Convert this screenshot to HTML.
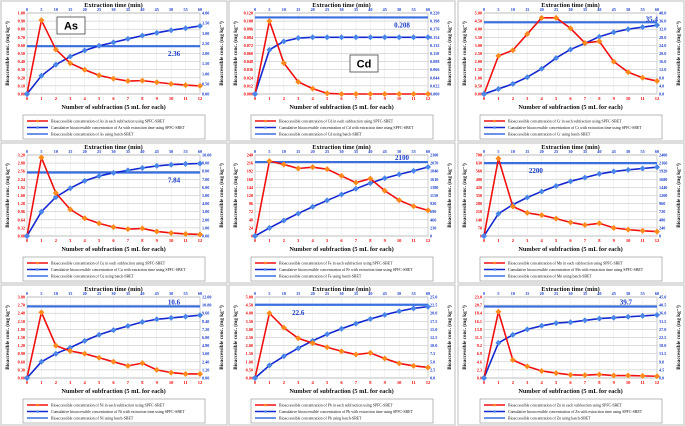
<!DOCTYPE html>
<html><head><meta charset="utf-8"><style>
html,body{margin:0;padding:0;background:#fff;}
svg{display:block;font-family:"Liberation Serif",serif;}
</style></head><body>
<svg id="fig" width="685" height="426" viewBox="0 0 685 426" xmlns="http://www.w3.org/2000/svg"></svg>
<script>
const elements = ["As","Cd","Cr","Cu","Fe","Mn","Ni","Pb","Zn"];
const leftMax = [1.0,0.12,5.0,3.2,240,700,3.0,5.0,23.0];
const leftTicks = [10,10,10,10,10,10,10,10,10];
const leftDec = [2,3,2,2,0,0,2,2,1];
const rightMax = [4.0,0.22,40,10,2300,2400,12,25,45];
const rightTicks = [8,10,10,10,10,10,10,10,10];
const rightDec = [2,3,1,2,0,0,2,1,1];
const redAs = [0,0.91,0.55,0.38,0.30,0.23,0.19,0.16,0.165,0.145,0.125,0.11,0.10];
const redCd = [0,0.108,0.046,0.018,0.008,0.001,0,0,0,0,0,0,0];
const redCr = [0,2.35,2.7,3.7,4.7,4.7,4.05,3.15,3.25,2.0,1.35,1.0,0.8];
const redCu = [0,3.1,1.7,1.05,0.7,0.5,0.35,0.27,0.3,0.18,0.12,0.08,0.06];
const redFe = [0,222,212,200,204,198,178,158,170,134,106,88,76];
const redMn = [0,670,255,200,180,150,118,95,110,70,55,45,38];
const redNi = [0,2.43,1.2,1.0,0.9,0.75,0.6,0.45,0.55,0.3,0.2,0.15,0.15];
const redPb = [0,4.0,3.1,2.45,2.15,1.9,1.65,1.45,1.55,1.2,0.9,0.75,0.65];
const redZn = [0,18.8,5.1,3.3,2.0,1.4,0.9,0.8,1.0,0.7,0.7,0.6,0.5];
const blueAs = [0,0.9,1.45,1.85,2.15,2.38,2.55,2.72,2.88,3.02,3.15,3.25,3.36];
const blueCd = [0,0.12,0.143,0.152,0.154,0.154,0.154,0.154,0.154,0.154,0.154,0.154,0.154];
const blueCr = [0,2.5,5.0,8.3,12.5,17.8,22,25,28.3,30.5,32,33,34];
const blueCu = [0,3.0,4.8,5.9,6.8,7.4,7.8,8.1,8.4,8.65,8.8,8.9,8.95];
const blueFe = [0,230,440,640,830,1010,1180,1340,1500,1640,1750,1850,1960];
const blueMn = [0,660,930,1140,1320,1480,1620,1730,1840,1910,1960,2000,2040];
const blueNi = [0,2.4,3.6,4.5,5.5,6.4,7.1,7.7,8.3,8.7,8.9,9.1,9.3];
const bluePb = [0,3.9,6.7,9.2,11.5,13.5,15.2,16.8,18.2,19.5,20.6,21.5,22.0];
const blueZn = [0,19.5,24,27,29,30.5,31,32,33,33.5,34,34.5,35];
const batchValues = [2.36,0.208,35.4,7.84,2100,2160,10.6,22.6,39.7];
const batchLabels = ["2.36","0.208","35.4","7.84","2100","2200","10.6","22.6","39.7"];
const subfractions = [0,1,2,3,4,5,6,7,8,9,10,11,12];
const timeTicks = [0,5,10,15,20,25,30,35,40,45,50,55,60];
const redSeries = [redAs,redCd,redCr,redCu,redFe,redMn,redNi,redPb,redZn];
const blueSeries = [blueAs,blueCd,blueCr,blueCu,blueFe,blueMn,blueNi,bluePb,blueZn];
const labelPos = [[0.85,10],[0.85,10],[0.97,-1],[0.85,10],[0.85,-2],[0.3,10],[0.85,-2],[0.25,10],[0.82,-2]];

const NS="http://www.w3.org/2000/svg";
const svg=document.getElementById('fig');
function mk(tag,attrs,parent){const e=document.createElementNS(NS,tag);for(const k in attrs)e.setAttribute(k,attrs[k]);(parent||svg).appendChild(e);return e;}
const colX=[0,228,457], rowY=[0,142,284];
const MS=3.0;
for(let i=0;i<9;i++){
  const px=colX[i%3], py=rowY[Math.floor(i/3)];
  const el=elements[i];
  const g=mk('g',{transform:`translate(${px},${py})`});
  
  
  const frame=mk('rect',{x:1,y:1,width:226,height:140,fill:'#fff',stroke:'#c8c8c8','stroke-width':1.2},g);
  
  
  const L=27,R=200,T=13,B=94;
  const xs=v=>L+(R-L)*v/12;
  const yl=v=>B-(B-T)*v/leftMax[i];
  const yr=v=>B-(B-T)*v/rightMax[i];
  mk('rect',{x:L,y:T,width:R-L,height:B-T,fill:'#fff',stroke:'#999','stroke-width':0.6},g);
  for(let k=0;k<=leftTicks[i];k++){
    const v=leftMax[i]*k/leftTicks[i];const y=yl(v);
    mk('line',{x1:L,x2:R,y1:y,y2:y,stroke:'#bbb','stroke-width':0.5},g);
    const t=mk('text',{x:L-2,y:y+1.5,'font-size':4.2,fill:'#e00','text-anchor':'end','font-weight':'bold'},g);
    t.textContent=v.toFixed(leftDec[i]);
    
    
  }
  for(let k=0;k<=rightTicks[i];k++){
    const v=rightMax[i]*k/rightTicks[i];const y=yr(v);
    const t=mk('text',{x:R+2,y:y+1.5,'font-size':4.2,fill:'#1a3cc8','font-weight':'bold'},g);
    t.textContent=v.toFixed(rightDec[i]);
    
    
  }
  for(let k=0;k<subfractions.length;k++){
    const x=xs(subfractions[k]);
    mk('line',{x1:x,x2:x,y1:T,y2:B,stroke:'#ddd','stroke-width':0.4},g);
    const t=mk('text',{x:x,y:B+6,'font-size':4.5,fill:'#e00','text-anchor':'middle','font-weight':'bold'},g);
    t.textContent=subfractions[k];
    
    
    const t2=mk('text',{x:x,y:T-2,'font-size':4.2,fill:'#1a3cc8','text-anchor':'middle','font-weight':'bold'},g);
    t2.textContent=timeTicks[k];
    
    
  }
  const tt=mk('text',{x:(L+R)/2,y:7,'font-size':6.3,'font-weight':'bold','text-anchor':'middle',fill:'#111'},g);
  tt.textContent='Extraction time (min)';
  
  
  const xt=mk('text',{x:(L+R)/2,y:B+15,'font-size':6.3,'font-weight':'bold','text-anchor':'middle',fill:'#111'},g);
  xt.textContent='Number of subfraction (5 mL for each)';
  
  
  const ylt=mk('text',{transform:`translate(9,${(T+B)/2}) rotate(-90)`,'font-size':5.2,'font-weight':'bold','text-anchor':'middle',fill:'#111'},g);
  ylt.textContent='Bioaccessible conc. (mg kg⁻¹)';
  
  
  const yrt=mk('text',{transform:`translate(223,${(T+B)/2}) rotate(-90)`,'font-size':5.2,'font-weight':'bold','text-anchor':'middle',fill:'#111'},g);
  yrt.textContent='Bioaccessible conc. (mg kg⁻¹)';
  
  
  const hy=yr(batchValues[i]);
  const hl=mk('line',{x1:L,x2:R,y1:hy,y2:hy,stroke:'#3a6fe0','stroke-width':2.2},g);
  
  
  const lp=labelPos[i];
  const hlab=mk('text',{x:L+(R-L)*lp[0],y:hy+lp[1],'font-size':7,'font-weight':'bold',fill:'#1a3cc8','text-anchor':'middle'},g);
  hlab.textContent=batchLabels[i];
  
  
  const bp=blueSeries[i].map((v,k)=>xs(subfractions[k])+','+yr(v)).join(' ');
  const bl=mk('polyline',{points:bp,fill:'none',stroke:'#1428d0','stroke-width':1.6},g);
  
  
  blueSeries[i].forEach((v,k)=>{const x=xs(subfractions[k]),y=yr(v);
    const m=mk('path',{d:`M${x},${y-MS}L${x+MS},${y}L${x},${y+MS}L${x-MS},${y}Z`,fill:'#4a86e8'},g);
    
    });
  const rp=redSeries[i].map((v,k)=>xs(subfractions[k])+','+yl(v)).join(' ');
  const rl=mk('polyline',{points:rp,fill:'none',stroke:'#f01010','stroke-width':1.6},g);
  
  
  redSeries[i].forEach((v,k)=>{const x=xs(subfractions[k]),y=yl(v);
    const m=mk('path',{d:`M${x},${y-MS}L${x+MS},${y}L${x},${y+MS}L${x-MS},${y}Z`,fill:k==0?'#4a86e8':'#ff8a1c'},g);
    
    });
  if(i<2){
    const bx=i==0?57:122, by=i==0?17:55;
    const b=mk('rect',{x:bx,y:by,width:28,height:17,fill:'#fff',stroke:'#444','stroke-width':0.8},g);
    
    
    const bt=mk('text',{x:bx+14,y:by+12.5,'font-size':11,'font-family':'Liberation Sans,sans-serif','font-weight':'bold','text-anchor':'middle'},g);
    bt.textContent=el;
    
    
  }
  const lg=mk('g',{},g);
  
  
  mk('rect',{x:23,y:115,width:182,height:24,fill:'#fff',stroke:'#777','stroke-width':0.5},lg);
  const lt=[`Bioaccessible concentration of ${el} in each subfraction using SPFC-SBET`,`Cumulative bioaccessible concentration of ${el} with extraction time using SPFC-SBET`,`Bioaccessible concentration of ${el} using batch-SBET`];
  const lc=['#f01010','#1428d0','#3a6fe0'];
  for(let k=0;k<3;k++){
    const y=121+k*6.5;
    mk('line',{x1:27,x2:48,y1:y,y2:y,stroke:lc[k],'stroke-width':1.4},lg);
    if(k<2) mk('circle',{cx:37.5,cy:y,r:1.3,fill:k==0?'#ff8a1c':'#4a86e8'},lg);
    const t=mk('text',{x:51,y:y+1.4,'font-size':3.9,fill:'#111'},lg);
    t.textContent=lt[k];
    
    
  }
}
</script>
</body></html>
